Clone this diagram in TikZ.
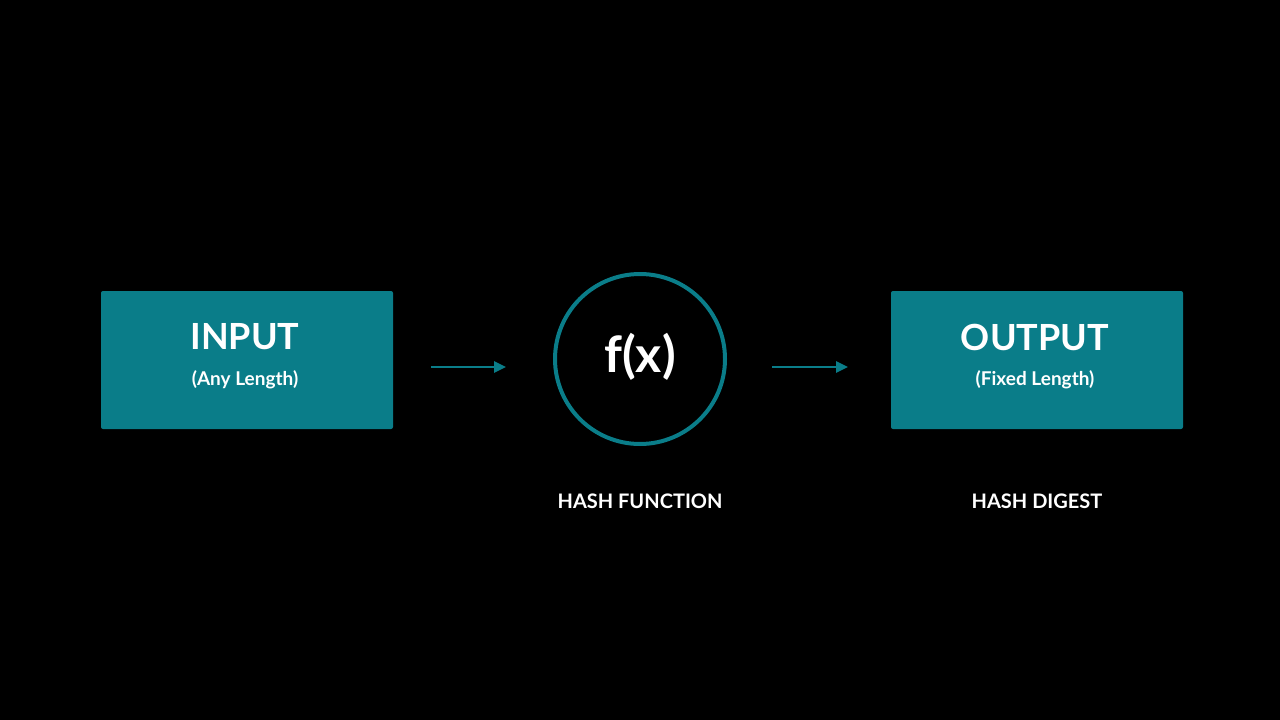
\documentclass[tikz,border=0pt]{standalone}
\usepackage{fontspec}
\setmainfont{Lato}
\usetikzlibrary{arrows.meta}
\definecolor{teal1}{HTML}{0A7D89}
\tikzset{
 box/.style={fill=teal1,rounded corners=2pt,minimum width=292pt,minimum height=138pt,inner sep=0pt},
 conn/.style={draw=teal1,line width=2.5pt,-{Triangle[length=12pt,width=11pt]}},
 lbl/.style={text=white,font=\fontsize{20}{24}\selectfont\bfseries}
}
\begin{document}
\begin{tikzpicture}[x=1pt,y=-1pt]
\fill[black] (0,0) rectangle (1280,720);
\useasboundingbox (0,0) rectangle (1280,720);
\node[box] (in) at (247,360) {};
\node[text=white,font=\fontsize{36}{40}\selectfont\bfseries] (int) at (245,337) {INPUT};
\node[text=white,font=\fontsize{19}{22}\selectfont\bfseries] (ins) at (245,380) {(Any Length)};
\node[circle,draw=teal1,line width=4pt,minimum size=170pt,inner sep=0pt] (f) at (640,359) {};
\node[text=white,font=\fontsize{50}{56}\selectfont\bfseries] (ft) at (640,357) {f(x)};
\node[box] (out) at (1037,360) {};
\node[text=white,font=\fontsize{36}{40}\selectfont\bfseries] (outt) at (1035,337) {OUTPUT};
\node[text=white,font=\fontsize{19}{22}\selectfont\bfseries] (outs) at (1035,380) {(Fixed Length)};
\node[lbl] (hf) at (640,501) {HASH FUNCTION};
\node[lbl] (hd) at (1037,501) {HASH DIGEST};
\coordinate (a1) at (431,367); \coordinate (a2) at (506,367);
\coordinate (b1) at (772,367); \coordinate (b2) at (848,367);
\draw[conn] (a1) -- (a2);
\draw[conn] (b1) -- (b2);
\end{tikzpicture}
\end{document}
